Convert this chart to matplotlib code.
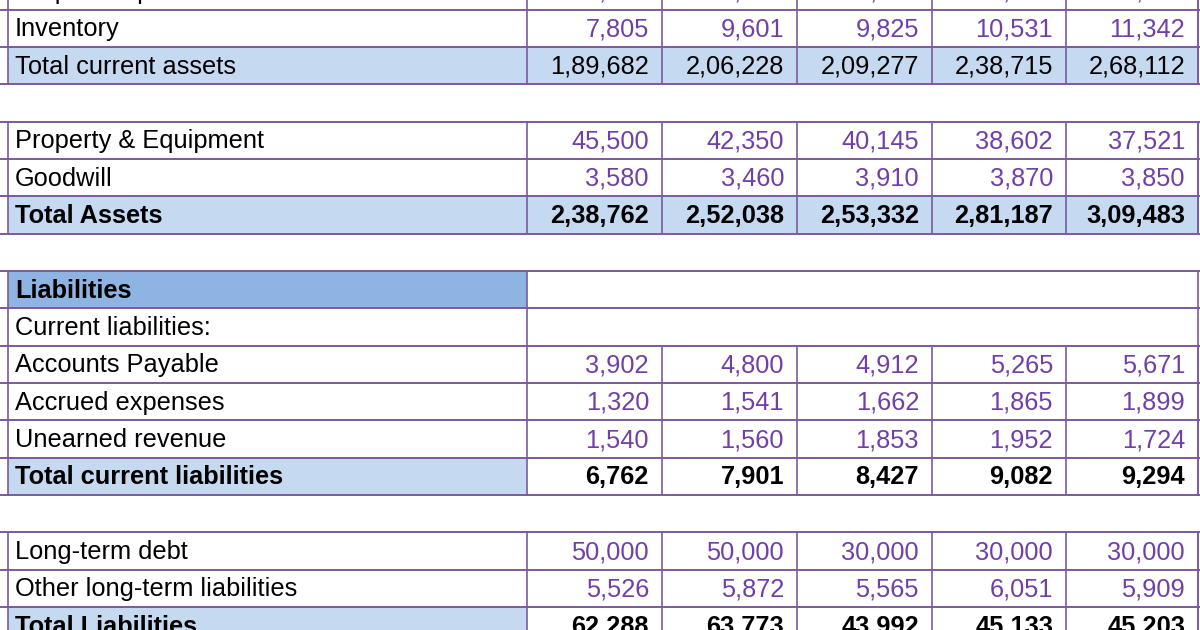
import matplotlib
matplotlib.use("Agg")
import matplotlib.pyplot as plt

labels = ["Prepaid expenses", "Inventory", "Total current assets", "",
          "Property & Equipment", "Goodwill", "Total Assets", "",
          "Liabilities", "Current liabilities:", "Accounts Payable", "Accrued expenses",
          "Unearned revenue", "Total current liabilities", "",
          "Long-term debt", "Other long-term liabilities", "Total Liabilities"]
kinds = ["val", "val", "total", "blank",
         "val", "val", "btotal", "blank",
         "head", "sub", "val", "val", "val", "bwtotal", "blank",
         "val", "val", "bwtotal"]
values = [
    ["4,363", "5,643", "5,470", "5,335", "5,652"],
    ["7,805", "9,601", "9,825", "10,531", "11,342"],
    ["1,89,682", "2,06,228", "2,09,277", "2,38,715", "2,68,112"],
    None,
    ["45,500", "42,350", "40,145", "38,602", "37,521"],
    ["3,580", "3,460", "3,910", "3,870", "3,850"],
    ["2,38,762", "2,52,038", "2,53,332", "2,81,187", "3,09,483"],
    None, None, None,
    ["3,902", "4,800", "4,912", "5,265", "5,671"],
    ["1,320", "1,541", "1,662", "1,865", "1,899"],
    ["1,540", "1,560", "1,853", "1,952", "1,724"],
    ["6,762", "7,901", "8,427", "9,082", "9,294"],
    None,
    ["50,000", "50,000", "30,000", "30,000", "30,000"],
    ["5,526", "5,872", "5,565", "6,051", "5,909"],
    ["62,288", "63,773", "43,992", "45,133", "45,203"],
]

W, H = 1200, 630
fig = plt.figure(figsize=(12, 6.3), dpi=100)
ax = fig.add_axes([0, 0, 1, 1])
ax.set_xlim(0, W); ax.set_ylim(H, 0); ax.axis("off")

cols = [8, 527, 662, 797, 932, 1066, 1198]
pitch = 37.35
y0 = 9.5 - pitch
border = "#7a5a9e"
purple = "#7040a8"
light = "#c5d9f1"
dark = "#8db4e2"
fs = 18.3
font = "Liberation Sans"

for i, (lab, kind, vals) in enumerate(zip(labels, kinds, values)):
    top = y0 + i * pitch
    bot = top + pitch
    cy = (top + bot) / 2 + 1
    if kind == "blank":
        ax.plot([0, W], [top, top], color=border, lw=1.2)
        ax.plot([0, W], [bot, bot], color=border, lw=1.2)
        continue
    if kind in ("total", "btotal"):
        ax.add_patch(plt.Rectangle((cols[0], top), cols[-1] - cols[0], pitch, color=light, lw=0))
    if kind == "bwtotal":
        ax.add_patch(plt.Rectangle((cols[0], top), cols[1] - cols[0], pitch, color=light, lw=0))
    if kind == "head":
        ax.add_patch(plt.Rectangle((cols[0], top), cols[1] - cols[0], pitch, color=dark, lw=0))
    ax.plot([0, W], [top, top], color=border, lw=1.2)
    ax.plot([0, W], [bot, bot], color=border, lw=1.2)
    ax.plot([cols[0], cols[0]], [top, bot], color=border, lw=1.2)
    ax.plot([cols[-1], cols[-1]], [top, bot], color=border, lw=1.2)
    ax.plot([cols[1], cols[1]], [top, bot], color=border, lw=1.2)
    bold = kind in ("btotal", "bwtotal", "head")
    ax.text(15, cy, lab, fontsize=fs, family=font, va="center", ha="left",
            fontweight="bold" if bold else "normal", color="black")
    if vals is not None:
        for j, v in enumerate(vals):
            ax.plot([cols[j + 2], cols[j + 2]], [top, bot], color=border, lw=1.2)
            col = "black" if kind in ("total", "btotal", "bwtotal") else purple
            ax.text(cols[j + 2] - 13, cy, v, fontsize=fs, family=font, va="center", ha="right",
                    fontweight="bold" if bold else "normal", color=col)

fig.savefig("out.png", dpi=100, facecolor="white")
